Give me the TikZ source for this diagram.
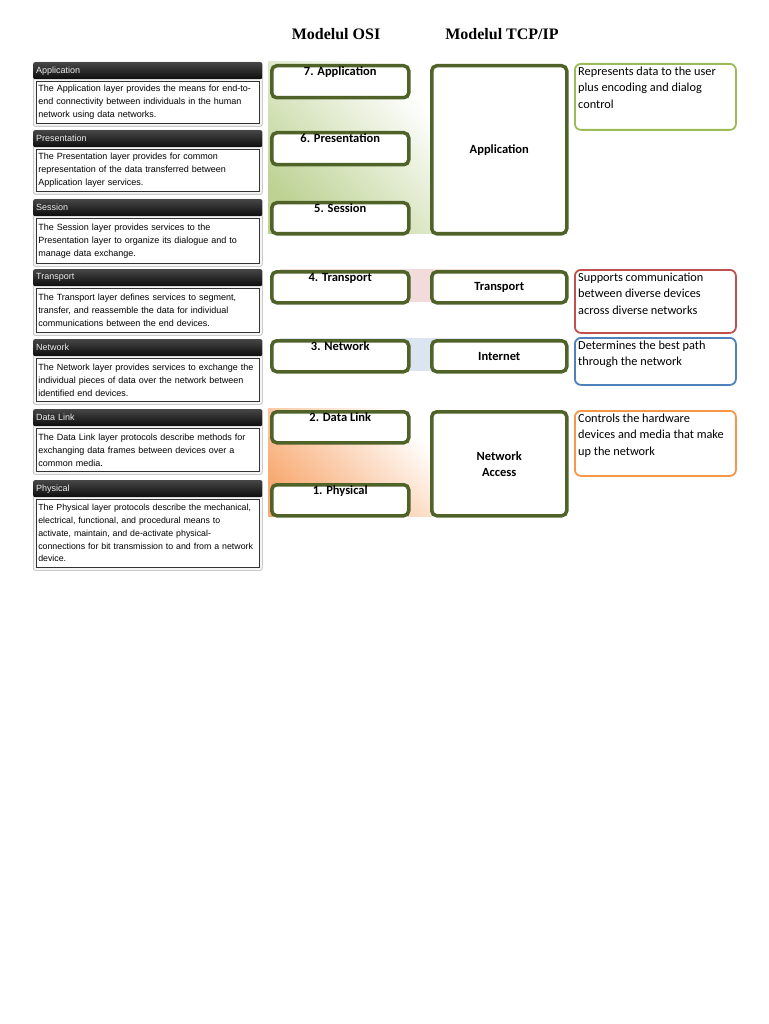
\documentclass[tikz,border=0pt]{standalone}
\usepackage{fontspec}
\setmainfont{Carlito}
\newfontfamily\panelfont{Liberation Sans}
\newfontfamily\titlefont{Liberation Serif}
\usepackage{xcolor}
\usetikzlibrary{positioning}

\definecolor{osigreen}{HTML}{4F6228}
\definecolor{appgreen}{HTML}{9BBB59}
\definecolor{trred}{HTML}{C0504D}
\definecolor{netblue}{HTML}{4F81BD}
\definecolor{accorange}{HTML}{F79646}
\definecolor{appbg}{HTML}{BDD293}
\definecolor{accbg}{HTML}{F8AA72}
\definecolor{trbg}{HTML}{F2DCDB}
\definecolor{netbg}{HTML}{DBE5F1}

\begin{document}
\begin{tikzpicture}[
    x=1pt, y=-1pt,
    title/.style={font=\titlefont\fontsize{16}{19}\selectfont\bfseries},
    panel/.style={draw=gray!60, fill=gray!8, rounded corners=2pt, line width=0.6pt, minimum width=229pt, anchor=north west, inner sep=0pt},
    panelhead/.style={top color=gray!55!black, bottom color=black!95, rounded corners=2pt, minimum width=229pt, minimum height=17pt, anchor=north west, text width=223pt, inner xsep=3pt, inner ysep=0pt, align=left, text=white!85!gray, font=\panelfont\fontsize{9}{10}\selectfont},
    paneltext/.style={draw=black!80, fill=white, line width=0.6pt, anchor=north west, text width=219pt, inner xsep=2pt, minimum width=223pt, align=left, font=\panelfont\fontsize{9}{13}\selectfont},
    osibox/.style={draw=osigreen, line width=3.5pt, rounded corners=5pt, fill=white, anchor=north west, minimum width=137pt, minimum height=32pt, inner sep=0pt},
    osilabel/.style={anchor=north, inner sep=3pt, font=\fontsize{12.5}{14}\selectfont\bfseries},
    tcpbox/.style={osibox, minimum width=135pt, font=\fontsize{12.5}{16}\selectfont\bfseries, align=center},
    desc/.style={rounded corners=6pt, line width=1.8pt, fill=white, anchor=north west, minimum width=161pt, inner sep=0pt},
    desclabel/.style={anchor=north west, inner xsep=4pt, inner ysep=3.5pt, align=left, font=\fontsize{12.3}{16.5}\selectfont}
]
\useasboundingbox (0,0) rectangle (768,1024);

% Titles
\node[title] (tosi) at (336,34) {Modelul OSI};
\node[title] (ttcp) at (502,34) {Modelul TCP/IP};

% Left column - layer descriptions
\node[panel, minimum height=64pt] (pApp) at (33,62) {};
\node[panelhead] (hApp) at (33,62) {Application};
\node[paneltext, minimum height=42pt] (tApp) at (36,81) {The Application layer provides the means for end-to-\\end connectivity between individuals in the human\\network using data networks.};

\node[panel, minimum height=64pt] (pPres) at (33,130) {};
\node[panelhead] (hPres) at (33,130) {Presentation};
\node[paneltext, minimum height=42pt] (tPres) at (36,149) {The Presentation layer provides for common\\representation of the data transferred between\\Application layer services.};

\node[panel, minimum height=67pt] (pSes) at (33,199) {};
\node[panelhead] (hSes) at (33,199) {Session};
\node[paneltext, minimum height=45pt] (tSes) at (36,218) {The Session layer provides services to the\\Presentation layer to organize its dialogue and to\\manage data exchange.};

\node[panel, minimum height=66pt] (pTr) at (33,269) {};
\node[panelhead] (hTr) at (33,269) {Transport};
\node[paneltext, minimum height=44pt] (tTr) at (36,288) {The Transport layer defines services to segment,\\transfer, and reassemble the data for individual\\communications between the end devices.};

\node[panel, minimum height=65pt] (pNet) at (33,339) {};
\node[panelhead] (hNet) at (33,339) {Network};
\node[paneltext, minimum height=43pt] (tNet) at (36,358) {The Network layer provides services to exchange the\\individual pieces of data over the network between\\identified end devices.};

\node[panel, minimum height=65pt] (pDl) at (33,409) {};
\node[panelhead] (hDl) at (33,409) {Data Link};
\node[paneltext, minimum height=43pt] (tDl) at (36,428) {The Data Link layer protocols describe methods for\\exchanging data frames between devices over a\\common media.};

\node[panel, minimum height=90pt] (pPhy) at (33,480) {};
\node[panelhead] (hPhy) at (33,480) {Physical};
\node[paneltext, minimum height=68pt, font=\panelfont\fontsize{8.8}{12.75}\selectfont] (tPhy) at (36,499) {The Physical layer protocols describe the mechanical,\\electrical, functional, and procedural means to\\activate, maintain, and de-activate physical-\\connections for bit transmission to and from a network\\device.};

% Coloured backgrounds behind the layer groups
\shade[left color=appbg, right color=white, shading angle=135] (268,62) rectangle (432,234);
\fill[trbg] (280,269) rectangle (560,302);
\fill[netbg] (280,338) rectangle (560,371);
\shade[left color=accbg, right color=white, shading angle=135] (268,408) rectangle (432,516);

% OSI layers
\node[osibox, label={[osilabel]north:7. Application}] (osi7) at (270,64) {};
\node[osibox, label={[osilabel]north:6. Presentation}] (osi6) at (270,131) {};
\node[osibox, minimum height=31pt, label={[osilabel]north:5. Session}] (osi5) at (270,201) {};
\node[osibox, minimum height=31pt, label={[osilabel]north:4. Transport}] (osi4) at (270,270) {};
\node[osibox, minimum height=31pt, label={[osilabel]north:3. Network}] (osi3) at (270,339) {};
\node[osibox, minimum height=31pt, label={[osilabel]north:2. Data Link}] (osi2) at (270,410) {};
\node[osibox, minimum height=31pt, label={[osilabel]north:1. Physical}] (osi1) at (270,483) {};

% TCP/IP layers
\node[tcpbox, minimum height=168pt] (tcpApp) at (430,64) {Application};
\node[tcpbox, minimum height=31pt] (tcpTr) at (430,270) {Transport};
\node[tcpbox, minimum height=31pt] (tcpNet) at (430,339) {Internet};
\node[tcpbox, minimum height=104pt] (tcpAcc) at (430,410) {Network\\Access};

% Descriptions on the right
\node[desc, draw=appgreen, minimum height=66pt, label={[desclabel]north west:Represents data to the user\\plus encoding and dialog\\control}] (dApp) at (574,63) {};
\node[desc, draw=trred, minimum height=63pt, label={[desclabel]north west:Supports communication\\between diverse devices\\across diverse networks}] (dTr) at (574,269) {};
\node[desc, draw=netblue, minimum height=47pt, label={[desclabel]north west:Determines the best path\\through the network}] (dNet) at (574,337) {};
\node[desc, draw=accorange, minimum height=65pt, label={[desclabel]north west:Controls the hardware\\devices and media that make\\up the network}] (dAcc) at (574,410) {};

\end{tikzpicture}
\end{document}
